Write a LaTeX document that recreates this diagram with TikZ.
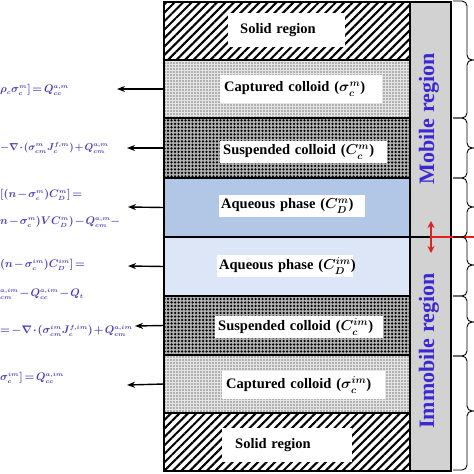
\documentclass[tikz,border=0pt]{standalone}
\usepackage{fontspec}
\setmainfont{Liberation Serif}
\usetikzlibrary{patterns.meta,arrows.meta}
\DeclareMathSizes{11}{11}{6.3}{5}
\DeclareMathSizes{10.4}{10.4}{6}{5}
\definecolor{eqc}{RGB}{72,55,190}
\definecolor{regc}{RGB}{60,40,210}
\definecolor{aqm}{RGB}{178,198,230}
\definecolor{aqim}{RGB}{221,230,246}
\definecolor{colg}{RGB}{210,210,210}
\definecolor{redc}{RGB}{230,30,30}
\newcommand{\eqsp}{\thickmuskip=2.5mu\medmuskip=1.5mu\thinmuskip=1mu}
\tikzset{
  layer/.style={draw=black, line width=1.2pt, minimum width=246pt, minimum height=#1, inner sep=0pt, outer sep=0pt, anchor=north west},
  hatchfill/.style={preaction={fill=white}, pattern={Lines[angle=45,distance=6pt,line width=2.1pt]}},
  capfill/.style={preaction={fill=black!10}, pattern={Dots[distance=3pt,radius=0.65pt]}},
  susfill/.style={preaction={fill=black!30}, pattern={Dots[distance=3.5pt,radius=1.25pt]}},
  lbl/.style={fill=white, anchor=west, align=left, inner ysep=0pt, font=\bfseries\boldmath\fontsize{14.5}{16}\selectfont},
  eqn/.style={anchor=west, inner sep=0pt, text=eqc, font=\boldmath\fontsize{11}{13}\selectfont\eqsp},
  arr/.style={-{Stealth[length=8pt,width=6pt]}, line width=1.4pt},
  reg/.style={rotate=90, text=regc, font=\bfseries\fontsize{22}{24}\selectfont},
  brc/.style={line width=0.9pt, rounded corners=5pt},
}
\begin{document}
\begin{tikzpicture}[x=1pt,y=-1pt]
\useasboundingbox (0,0) rectangle (474,474);
\clip (0,0) rectangle (474,474);
% layers
\node[layer=58pt, hatchfill] (L1) at (164,2) {};
\node[layer=58pt, capfill] (L2) at (164,60) {};
\node[layer=60pt, susfill] (L3) at (164,118) {};
\node[layer=59pt, fill=aqm] (L4) at (164,178) {};
\node[layer=59pt, fill=aqim] (L5) at (164,237) {};
\node[layer=59pt, susfill] (L6) at (164,296) {};
\node[layer=58pt, capfill] (L7) at (164,355) {};
\node[layer=58pt, hatchfill] (L8) at (164,413) {};
% gray column
\node[draw=black, line width=1.2pt, fill=colg, minimum width=41pt, minimum height=469pt, inner sep=0pt, anchor=north west] (col) at (410,2) {};
\draw[line width=1.6pt] (164,2) rectangle (451,471);
% labels
\node[lbl, text width=93pt, inner xsep=12pt, minimum height=34pt] (t1) at (228,30) {\mbox{Solid region}};
\node[lbl, text width=154pt, inner xsep=4pt, minimum height=28pt] (t2) at (220,89) {\mbox{Captured colloid ($\sigma_c^m$)}};
\node[lbl, text width=161pt, inner xsep=3pt, minimum height=22pt] (t3) at (220,152) {\mbox{Suspended colloid ($C_c^m$)}};
\node[lbl, text width=142pt, inner xsep=2pt, minimum height=22pt] (t4) at (219,206) {\mbox{Aqueous phase ($C_D^m$)}};
\node[lbl, text width=132pt, inner xsep=2pt, minimum height=22pt] (t5) at (217,266) {\mbox{Aqueous phase ($C_D^{im}$)}};
\node[lbl, text width=162pt, inner xsep=3pt, minimum height=22pt] (t6) at (215,327) {\mbox{Suspended colloid ($C_c^{im}$)}};
\node[lbl, text width=155pt, inner xsep=4pt, minimum height=28pt] (t7) at (222,385) {\mbox{Captured colloid ($\sigma_c^{im}$)}};
\node[lbl, text width=104pt, inner xsep=13pt, minimum height=34pt] (t8) at (222,445) {\mbox{Solid region}};
% region labels
\node[reg] (mob) at (429,119) {Mobile region};
\node[reg] (imm) at (429,351) {Immobile region};
% interface line and red exchange
\coordinate (rc) at (431,237);
\coordinate (rtop) at (431,221);
\coordinate (rbot) at (431,253);
\coordinate (redge) at (476,237);
\draw[line width=2.2pt] (L5.north west) -- (rc);
\draw[redc, line width=1.8pt] (rc) -- (redge);
\draw[redc, line width=1.8pt, {Stealth[length=7pt,width=7pt]}-{Stealth[length=7pt,width=7pt]}] (rtop) -- (rbot);
% braces
\foreach \a/\t/\b in {1/60/118, 118/148/178, 178/207/237, 237/265/296, 296/322/356, 356/411/470}{
  \draw[brc] (453,\a) -| (467,\t) -- (476,\t);
  \draw[brc] (453,\b) -| (467,\t) -- (476,\t);
}
% arrows
\coordinate (a2) at (117,89);
\coordinate (a3) at (127,148);
\coordinate (a4) at (128,207);
\coordinate (a5) at (128,266);
\coordinate (a6) at (135,326);
\coordinate (a7) at (127,385);
\draw[arr] (L2.west) -- (a2);
\draw[arr] (L3.west) -- (a3);
\draw[arr] (L4.west) -- (a4);
\draw[arr] (L5.west) -- (a5);
\draw[arr] (L6.west) -- (a6);
\draw[arr] (L7.west) -- (a7);
% equations (cut at the left edge)
\node[eqn] (e1) at (0,90) {$\rho_c\sigma_c^m] = Q_{cc}^{a,m}$};
\node[eqn, font=\boldmath\fontsize{10.4}{12}\selectfont\eqsp] (e2) at (0,148) {$-\nabla\cdot(\sigma_{cm}^m J_c^{f,m}) + Q_{cm}^{a,m}$};
\node[eqn] (e3) at (0,195) {$[(n-\sigma_c^m)C_D^m] =$};
\node[eqn] (e4) at (0,222) {$n-\sigma_c^m)VC_D^m) - Q_{cm}^{a,m} -$};
\node[eqn] (e5) at (0,265) {$(n-\sigma_c^{im})C_D^{im}] =$};
\node[eqn] (e6) at (0,294) {${}_{cm}^{a,im} - Q_{cc}^{a,im} - Q_t$};
\node[eqn] (e7) at (0,331) {$= -\nabla\cdot(\sigma_{cm}^{im} J_c^{f,im}) + Q_{cm}^{a,im}$};
\node[eqn] (e8) at (0,378) {$\sigma_c^{im}] = Q_{cc}^{a,im}$};
\end{tikzpicture}
\end{document}
